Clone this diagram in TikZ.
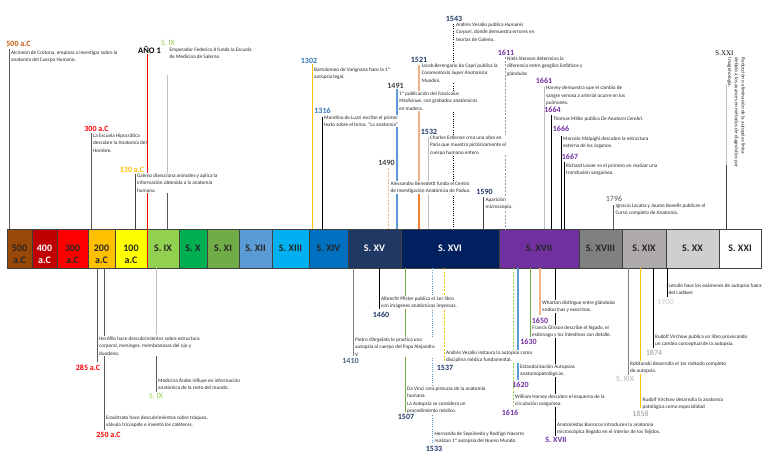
\documentclass[tikz,border=0pt]{standalone}
\usepackage{fontspec}
\setmainfont{Carlito}
\newfontfamily\yearserif{Liberation Serif}
\usetikzlibrary{positioning, calc}
% era colours
\definecolor{era500}{HTML}{984807}
\definecolor{era400}{HTML}{C00000}
\definecolor{era300}{HTML}{FF0000}
\definecolor{era200}{HTML}{FFC000}
\definecolor{era100}{HTML}{FFFF00}
\definecolor{eraIX}{HTML}{92D050}
\definecolor{eraX}{HTML}{00B050}
\definecolor{eraXI}{HTML}{70AD47}
\definecolor{eraXII}{HTML}{5B9BD5}
\definecolor{eraXIII}{HTML}{00B0F0}
\definecolor{eraXIV}{HTML}{0070C0}
\definecolor{eraXV}{HTML}{203864}
\definecolor{eraXVI}{HTML}{002060}
\definecolor{eraXVII}{HTML}{7030A0}
\definecolor{eraXVIII}{HTML}{808080}
\definecolor{eraXIX}{HTML}{AEAAAA}
\definecolor{eraXX}{HTML}{D0CECE}
\definecolor{eraXXI}{HTML}{FFFFFF}
% label and line colours
\definecolor{rustbrown}{HTML}{C55A11}
\definecolor{navyyear}{HTML}{1F3864}
\definecolor{blueyear}{HTML}{2E75B6}
\definecolor{purpleyear}{HTML}{7030A0}
\definecolor{goldline}{HTML}{FFC000}
\definecolor{salmonline}{HTML}{F4B183}
\definecolor{orangeline}{HTML}{ED7D31}
\definecolor{skyline}{HTML}{5B9BD5}
\definecolor{limeline}{HTML}{92D050}
\definecolor{leafline}{HTML}{70AD47}
\tikzset{
  era box/.style={draw=black!75, line width=0.6pt, minimum height=39pt, inner sep=0, outer sep=0},
  era text/.style={anchor=north, align=center, inner sep=0, font=\fontsize{10}{12.5}\selectfont\bfseries},
  event text/.style={anchor=north west, align=left, inner sep=0.5pt, fill=white, text=black!85},
  year label/.style={inner sep=0, font=\fontsize{8}{9}\selectfont\bfseries},
  year soft/.style={inner sep=0, font=\fontsize{8}{9}\selectfont},
  event line/.style={line width=1pt},
  ln dark/.style={draw=black!65},
  ln darker/.style={draw=black!75},
  ln black/.style={draw=black},
  ln pale/.style={draw=black!25},
  ln gray/.style={draw=black!50},
  ln red/.style={draw=red},
  ln gold/.style={draw=goldline},
  ln blue/.style={draw=skyline, line width=1.6pt},
  ln salmon/.style={draw=salmonline, line width=1.6pt},
  ln salmon dash/.style={draw=salmonline, dash pattern=on 2pt off 1.5pt},
  ln dot/.style={draw=black, dash pattern=on 0.8pt off 1.4pt},
  ln blue dot/.style={draw=skyline, dash pattern=on 0.8pt off 1.4pt},
  ln gray dash/.style={draw=black!40, dash pattern=on 2pt off 1.5pt},
  ln gold dash/.style={draw=goldline, dash pattern=on 2pt off 1.5pt},
  ln green dash/.style={draw=limeline, dash pattern=on 2pt off 1.5pt},
  ln green/.style={draw=leafline}
}

\begin{document}
\begin{tikzpicture}[x=1pt, y=-1pt, font=\fontsize{5.2}{7.4}\selectfont]
  \useasboundingbox (0,0) rectangle (768,466);

  % --- Eras bar ---
  \coordinate (bar-top) at (0,229);
  \coordinate (bar-bot) at (0,268);
  \foreach \xa/\xb/\fillc/\txtc/\lbl [count=\i] in {
      7/32/era500/black!85/{500\\a.C}, 32/57/era400/white/{400\\a.C},
      57/88/era300/black!85/{300\\a.C}, 88/115/era200/black!85/{200\\a.C},
      115/147/era100/black!85/{100\\a.C}, 147/179/eraIX/black!85/{S. IX},
      179/207/eraX/black!85/{S. X}, 207/239/eraXI/black!85/{S. XI},
      239/272/eraXII/black!85/{S. XII}, 272/309/eraXIII/black!85/{S. XIII},
      309/348/eraXIV/black!85/{S. XIV}, 348/401/eraXV/white/{S. XV},
      401/499/eraXVI/white/{S. XVI}, 499/579/eraXVII/black!85/{S. XVII},
      579/622/eraXVIII/black!85/{S. XVIII}, 622/666/eraXIX/black!85/{S. XIX},
      666/719/eraXX/black!85/{S. XX}, 719/761/eraXXI/black!85/{S. XXI}} {
    \node[era box, fill=\fillc, minimum width={(\xb-\xa)*1pt}] (era-\i) at ({(\xa+\xb)/2},248.5) {};
    \node[era text, text=\txtc] (era-lbl-\i) at ({(\xa+\xb)/2},244.5) {\lbl};
  }

  % --- Lines above the bar ---
  \foreach \n/\x/\ya/\sty in {500/9/49/ln dark, 300/91/133/ln dark, 130/135/174/ln darker,
      ix/167/75/ln pale, 1302/312/64/ln gold, 1316/322/117/ln black,
      1490/388/168/ln salmon dash, 1491/397/89/ln blue, 1521/419/65/ln salmon,
      1532/428/137/ln pale, 1543/453/24/ln dot, 1590/483/197/ln darker,
      1611/505/57/ln gray dash, 1661/544/86/ln pale, 1664/551/115/ln black,
      1666/561/136/ln black, 1667/564/162/ln black, 1796/613/205/ln dark,
      xxi/726/84/ln pale} {
    \coordinate (l-\n) at (\x,\ya);
    \draw[event line, \sty] (l-\n) -- (l-\n |- bar-top);
  }
  % lower parts in another shade
  \coordinate (l-ix-low) at (167,192);
  \draw[event line, ln dark] (l-ix-low) -- (l-ix-low |- bar-top);
  \coordinate (l-1521-low) at (419,194);
  \draw[event line, draw=orangeline, line width=1.6pt] (l-1521-low) -- (l-1521-low |- bar-top);
  \coordinate (l-xxi-low) at (726,165);
  \draw[event line, ln darker] (l-xxi-low) -- (l-xxi-low |- bar-top);
  % year one, across the bar
  \coordinate (l-ano) at (147,54);
  \draw[event line, ln red] (l-ano) -- (l-ano |- bar-bot);

  % --- Lines below the bar ---
  \foreach \n/\x/\yb/\sty in {285/97/362/ln dark, 250/104/430/ln dark, ix/156/335/ln pale,
      1410/353/356/ln gray, 1460/379/309/ln black, 1507/405/412/ln green,
      1533/432/442/ln blue dot, 1537/444/362/ln gold dash, 1616/513/406/ln green dash,
      1620/518/380/ln blue, 1630/530/337/ln green, 1650/540/315/ln salmon,
      xvii/555/436/ln black, xix/628/375/ln gray, 1858/640/408/ln gold,
      1874/653/348/ln black, 1900/667/297/ln black} {
    \coordinate (b-\n) at (\x,\yb);
    \draw[event line, \sty] (b-\n |- bar-bot) -- (b-\n);
  }
  \coordinate (b-ix-up) at (156,345);
  \coordinate (b-ix-low) at (156,392);
  \draw[event line, ln dark] (b-ix-up) -- (b-ix-low);

  % --- Texts above the bar ---
  \node[event text] (t-500) at (10.5,50) {Alcmeón de Crotona, empieza a investigar sobre la\\anatomía del Cuerpo Humano.};
  \node[event text] (t-300) at (92.5,133) {La Escuela Hipocrática\\descubre la Anatomía del\\Hombre.};
  \node[event text] (t-130) at (136.5,173) {Galeno disecciona animales y aplica la\\información obtenida a la anatomía\\humana.};
  \node[event text] (t-ix) at (169,47) {Emperador Federico II funda la Escuela\\de Medicina de Salerno};
  \node[event text] (t-1302) at (313.5,67) {Bartolomeo de Varignana hace la 1ª\\autopsia legal.};
  \node[event text] (t-1316) at (323.5,115) {Mondino de Luzzi escribe el primer\\texto sobre el tema: ``La anatomía''};
  \node[event text] (t-1491) at (398.5,91) {1ª publicación del \textit{Fasciculus}\\\textit{Medicinae}, con grabados anatómicos\\en madera.};
  \node[event text] (t-1490) at (390,181) {Alessandro Benedetti funda el Centro\\de Investigación Anatómica de Padua.};
  \node[event text] (t-1521) at (421,63) {Jacob Berengario da Capri publica la\\\textit{Commentaria Super Anatomica}\\\textit{Mundini}.};
  \node[event text] (t-1532) at (429.5,135) {Charles Estienne crea una obra en\\París que muestra pictóricamente el\\cuerpo humano entero};
  \node[event text] (t-1543) at (455.5,22) {Andrés Vesalio publica \textit{Humanis}\\\textit{Corpori}, donde demuestra errores en\\teorías de Galeno.};
  \node[event text] (t-1590) at (485,197) {Aparición\\microscopio.};
  \node[event text] (t-1611) at (506.5,56) {Niels Stenson determina la\\diferencia entre ganglios linfáticos y\\glándulas};
  \node[event text] (t-1661) at (545.5,85.5) {Harvey demuestra que el cambio de\\sangre venosa a arterial ocurre en los\\pulmones.};
  \node[event text] (t-1664) at (552.5,116) {Thomas Miller publica \textit{De Anatomi Cerebri}.};
  \node[event text] (t-1666) at (562.5,136) {Marcelo Malpighi descubre la estructura\\externa de los órganos.};
  \node[event text] (t-1667) at (565.5,163) {Richard Lower es el primero en realizar una\\transfusión sanguínea.};
  \node[event text] (t-1796) at (615,203) {Ignacio Lacaba y Jaume Bonells publican el\\Curso completo de Anatomía.};
  \node[event text, fill=none, rotate=-90, font=\fontsize{5.2}{6.8}\selectfont] (t-xxi) at (746,57)
    {Reducción o eliminación de la autopsia clínica\\debido a los avances en métodos de diagnóstico por\\Imagenología.};

  % --- Texts below the bar ---
  \node[event text] (b-t-285) at (98.5,336) {Herófilo hace descubrimientos sobre estructura\\corporal, meninges, membranosas del ojo y\\duodeno.};
  \node[event text] (b-t-250) at (105.5,415) {Erasístrato hace descubrimientos sobre tráquea,\\válvula tricúspide e inventó los catéteres.};
  \node[event text] (b-t-ix) at (157.5,377) {Medicina Árabe influye en información\\anatómica de la resto del mundo.};
  \node[event text] (b-t-1410) at (354.5,337) {Pietro d'Argelata le practica una\\autopsia al cuerpo del Papa Alejandro\\V};
  \node[event text] (b-t-1460) at (380.5,296) {Albrecht Pfister publica el 1er libro\\con imágenes anatómicas impresas.};
  \node[event text] (b-t-1507) at (406.5,386) {Da Vinci crea pinturas de la anatomía\\humana.\\La Autopsia se considera un\\procedimiento médico.};
  \node[event text] (b-t-1533) at (434,431) {Hernando de Sepúlveda y Rodrigo Navarro\\realizan 1ª autopsia del Nuevo Mundo.};
  \node[event text] (b-t-1537) at (445.5,350) {Andrés Vesalio instaura la autopsia como\\disciplina médica fundamental.};
  \node[event text] (b-t-1616) at (514.5,394) {William Harvey descubre el esquema de la\\circulación sanguínea.};
  \node[event text] (b-t-1620) at (519.5,364) {Estandarización Autopsias\\anatomopatológicas.};
  \node[event text] (b-t-1630) at (531.5,325) {Francis Glisson describe el hígado, el\\estómago y los intestinos con detalle.};
  \node[event text] (b-t-1650) at (541.5,300) {Wharton distingue entre glándulas\\endocrinas y exocrinas.};
  \node[event text] (b-t-xvii) at (556.5,422) {Anatomistas Barrocos introducen la anatomía\\microscópica llegado en el interior de los Tejidos.};
  \node[event text] (b-t-xix) at (629.5,361) {Rokitanski desarrolla el 1er método completo\\de autopsia.};
  \node[event text] (b-t-1858) at (642,397) {Rudolf Virchow desarrolla la anatomía\\patológica como especialidad};
  \node[event text] (b-t-1874) at (654.5,334) {Rudolf Virchow publica un libro provocando\\un cambio conceptual de la autopsia.};
  \node[event text] (b-t-1900) at (668,283) {Letulle hace los exámenes de autopsia fuera\\del cadáver.};

  % --- Year labels above ---
  \node[year label, text=rustbrown] (y-500) at (18.5,44) {500 a.C};
  \node[year label, text=red] (y-300) at (96.5,129) {300 a.C};
  \node[year label, text=goldline] (y-130) at (132,170) {130 a.C};
  \node[year label, font=\fontsize{8.5}{9}\selectfont\bfseries] (y-ano) at (149.5,50) {AÑO 1};
  \node[year label, font=\fontsize{8}{9}\selectfont, text=limeline] (y-ix) at (168,42.5) {S. IX};
  \node[year label, text=blueyear] (y-1302) at (309,61) {1302};
  \node[year label, text=blueyear] (y-1316) at (322.5,111) {1316};
  \node[year label, text=black!75] (y-1491) at (395.5,86) {1491};
  \node[year label, text=black!75] (y-1490) at (386.5,163) {1490};
  \node[year label, text=navyyear] (y-1521) at (419,60) {1521};
  \node[year label, text=navyyear] (y-1532) at (429,132) {1532};
  \node[year label, text=navyyear] (y-1543) at (454,19) {1543};
  \node[year label, text=navyyear] (y-1590) at (484.5,191.5) {1590};
  \node[year label, text=purpleyear] (y-1611) at (506,53) {1611};
  \node[year label, text=purpleyear] (y-1661) at (544,80.5) {1661};
  \node[year label, text=purpleyear] (y-1664) at (552.5,110) {1664};
  \node[year label, text=purpleyear] (y-1666) at (561,129) {1666};
  \node[year label, text=purpleyear] (y-1667) at (570,157) {1667};
  \node[year soft, text=black!65] (y-1796) at (614,199) {1796};
  \node[year soft, font=\yearserif\fontsize{7}{8}\selectfont] (y-xxi) at (724.5,53) {S.XXI};

  % --- Year labels below ---
  \node[year label, text=red] (y-285) at (88,368) {285 a.C};
  \node[year label, text=red] (y-250) at (108.5,435) {250 a.C};
  \node[year soft, text=limeline] (y-ix-b) at (156,396) {S. IX};
  \node[year label, text=navyyear!80] (y-1410) at (350.5,361) {1410};
  \node[year label, text=navyyear] (y-1460) at (381,315) {1460};
  \node[year label, text=navyyear] (y-1507) at (406,417) {1507};
  \node[year label, text=navyyear] (y-1533) at (434,449) {1533};
  \node[year label, text=navyyear] (y-1537) at (445,368) {1537};
  \node[year label, text=purpleyear] (y-1616) at (510,413) {1616};
  \node[year label, text=purpleyear] (y-1620) at (520.5,385) {1620};
  \node[year label, text=purpleyear] (y-1630) at (528.5,342) {1630};
  \node[year label, text=purpleyear] (y-1650) at (540,321) {1650};
  \node[year label, text=purpleyear] (y-xvii) at (556,440) {S. XVII};
  \node[year soft, text=black!30] (y-xix) at (625,379) {S. XIX};
  \node[year soft, text=black!40] (y-1858) at (640.5,414) {1858};
  \node[year soft, text=black!40] (y-1874) at (654,353) {1874};
  \node[year soft, text=black!20] (y-1900) at (665.5,302) {1900};
\end{tikzpicture}
\end{document}
